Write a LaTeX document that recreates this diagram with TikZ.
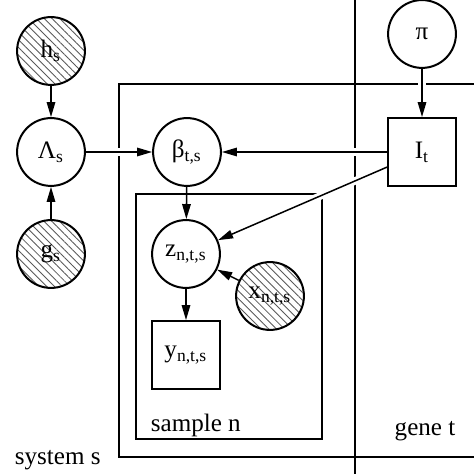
\documentclass[tikz,border=0pt]{standalone}
\usepackage{fontspec}
\setmainfont{Liberation Serif}
\usetikzlibrary{arrows.meta,patterns.meta,positioning}
\tikzset{lat/.style={draw,circle,line width=.8pt,minimum size=0.95cm,inner
sep=0pt,text=black},obs/.style={lat,pattern={Lines[angle=-45,distance=2.2pt,line
width=.35pt]},pattern color=black!65},det/.style={draw,rectangle,line
width=.8pt,minimum size=0.95cm,inner sep=0pt,text=black}}

\begin{document}
\begin{tikzpicture}[x=0.014cm,y=-0.014cm,plate/.style={draw,line width=.6pt},
arr/.style={-{Triangle[length=6pt,width=3.4pt]},line width=.6pt,preaction={draw=white,line width=3pt,-,shorten <=4pt,shorten >=4pt}}]
			\useasboundingbox (0,0) rectangle (474,474);
			\clip (0,0) rectangle (474,474);
			% plates
			\draw[plate] (-10,-10) rectangle (355,490);
			\draw[plate] (119,84) rectangle (490,457);
			\draw[plate] (136,194) rectangle (322,439);
			\node[anchor=west] (sys) at (6,460) {system s};
			\node (gene) at (425,431) {gene t};
			\node[anchor=west] (smp) at (142,425) {sample n};

			\node[obs] (h) at (51,51) {h\textsubscript{s}};
			\node[lat] (L) at (51,152) {Λ\textsubscript{s}};
			\node[obs] (g) at (51,254) {g\textsubscript{s}};
			\node[lat] (pi) at (422,34) {π};
			\node[det] (I) at (422,152) {I\textsubscript{t}};
			\node[lat] (b) at (187,152) {β\textsubscript{t,s}};
			\node[lat] (z) at (186,254) {z\textsubscript{n,t,s}};
			\node[obs] (x) at (270,296) {x\textsubscript{n,t,s}};
			\node[det] (y) at (186,355) {y\textsubscript{n,t,s}};

			\draw[arr] (h) -- (L);
			\draw[arr] (g) -- (L);
			\draw[arr] (L) -- (b);
			\draw[arr] (I) -- (b);
			\draw[arr] (pi) -- (I);
			\draw[arr] (b) -- (z);
			\draw[arr] (I) -- (z);
			\draw[arr] (x) -- (z);
			\draw[arr] (z) -- (y);
		\end{tikzpicture}
\end{document}
